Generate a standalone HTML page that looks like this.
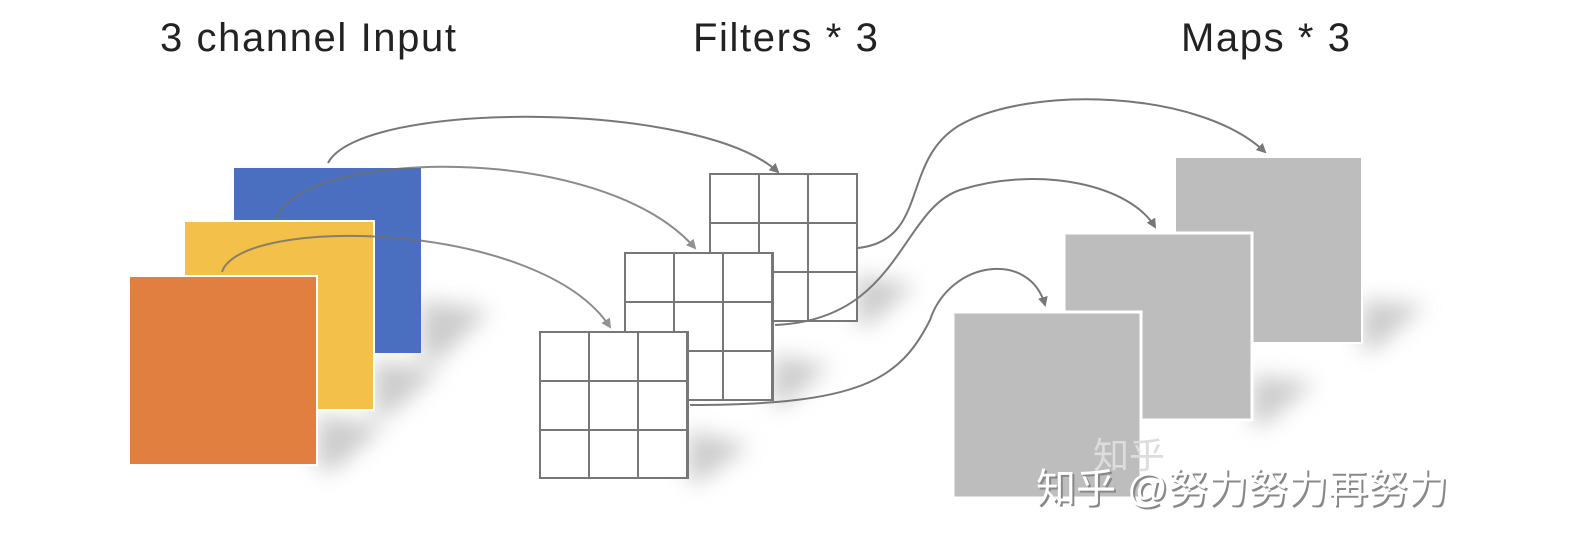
<!DOCTYPE html>
<html><head><meta charset="utf-8"><style>
html,body{margin:0;padding:0;background:#fff;width:1586px;height:534px;overflow:hidden;position:relative;font-family:"Liberation Sans","Noto Sans CJK SC",sans-serif}
.t{position:absolute;top:16px;font-size:40px;letter-spacing:1.6px;color:#222;white-space:nowrap}
</style></head><body>
<div class="t" style="left:160px">3 channel Input</div>
<div class="t" style="left:693px">Filters * 3</div>
<div class="t" style="left:1181px">Maps * 3</div>
<svg width="1586" height="534" style="position:absolute;left:0;top:0">
<defs>
<filter id="b"><feGaussianBlur stdDeviation="11"/></filter>
<marker id="a" markerWidth="10" markerHeight="10" refX="8" refY="5" orient="auto" markerUnits="userSpaceOnUse" viewBox="0 0 10 10"><path d="M0,0 L10,5 L0,10z" fill="#777"/></marker>
<pattern id="g" width="49" height="49" patternUnits="userSpaceOnUse"><rect width="49" height="49" fill="none" stroke="#777" stroke-width="2"/></pattern>
</defs>
<g filter="url(#b)" fill="#aaa" opacity="0.6">
<polygon points="421,300 490,310 440,360 421,360"/>
<polygon points="374,360 440,370 390,415 374,415"/>
<polygon points="317,415 385,425 335,470 317,470"/>
<polygon points="857,275 915,285 870,325 857,325"/>
<polygon points="773,355 830,365 785,405 773,405"/>
<polygon points="688,430 750,445 700,482 688,482"/>
<polygon points="1362,300 1425,305 1375,350 1362,350"/>
<polygon points="1252,375 1315,382 1265,425 1252,425"/>
</g>
<rect x="234" y="168" width="187" height="185" fill="#4a6fc0"/>
<rect x="184" y="221" width="190" height="189" fill="#f3c04a" stroke="#fff" stroke-width="2"/>
<rect x="129" y="276" width="188" height="189" fill="#e07f40" stroke="#fff" stroke-width="2"/>
<g fill="none" stroke="#6f6f6f" stroke-width="2" opacity="0.8">
<path d="M277,218 C300,150 600,140 695,248" marker-end="url(#a)"/>
<path d="M222,272 C240,215 540,220 610,327" marker-end="url(#a)"/>
</g>
<path d="M328,163 C360,100 700,100 778,172" fill="none" stroke="#777" stroke-width="2" marker-end="url(#a)"/>
<g transform="translate(710,174)"><rect width="147" height="147" fill="#fff"/><rect width="147" height="147" fill="url(#g)" stroke="#777" stroke-width="2"/></g>
<path d="M858,248 C930,240 900,160 960,125 C1030,85 1200,90 1265,152" fill="none" stroke="#777" stroke-width="2" marker-end="url(#a)"/>
<g transform="translate(625,253)"><rect width="148" height="147" fill="#fff"/><rect width="148" height="147" fill="url(#g)" stroke="#777" stroke-width="2"/></g>
<path d="M775,325 C900,320 900,210 960,190 C1040,165 1130,185 1155,227" fill="none" stroke="#777" stroke-width="2" marker-end="url(#a)"/>
<g transform="translate(540,332)"><rect width="148" height="146" fill="#fff"/><rect width="148" height="146" fill="url(#g)" stroke="#777" stroke-width="2"/></g>
<path d="M690,405 C860,405 900,380 930,320 C950,260 1030,250 1045,305" fill="none" stroke="#777" stroke-width="2" marker-end="url(#a)"/>
<rect x="1175" y="157" width="187" height="186" fill="#bdbdbd" stroke="#fff" stroke-width="2"/>
<rect x="1064" y="233" width="188" height="187" fill="#bdbdbd" stroke="#fff" stroke-width="3"/>
<rect x="953" y="312" width="188" height="186" fill="#bdbdbd" stroke="#fff" stroke-width="3"/>
<text x="1093" y="468" font-size="36" fill="#ddd" font-family="Noto Sans CJK SC,sans-serif">知乎</text>
<text x="1038" y="504" font-size="40" fill="#888" font-family="Liberation Sans,Noto Sans CJK SC,sans-serif">知乎 @努力努力再努力</text>
<text x="1036" y="502" font-size="40" fill="#fff" font-family="Liberation Sans,Noto Sans CJK SC,sans-serif">知乎 @努力努力再努力</text>
</svg>
</body></html>
